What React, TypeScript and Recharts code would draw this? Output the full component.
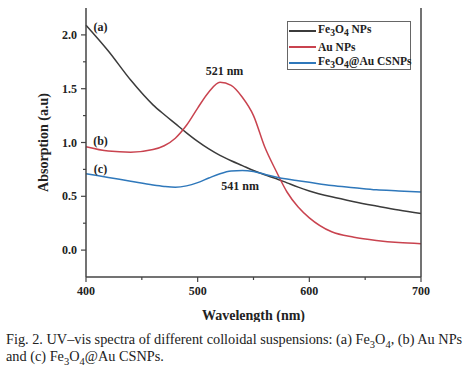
import React from "react"
import {
  LineChart,
  Line,
  XAxis,
  YAxis,
  ReferenceDot,
} from "recharts"

const wavelengths = [400, 420, 440, 460, 470, 480, 490, 500, 510, 520, 530, 540, 550, 560, 570, 580, 590, 600, 620, 640, 660, 680, 700]
const fe3o4 = [2.09, 1.85, 1.58, 1.35, 1.26, 1.175, 1.09, 1.01, 0.94, 0.88, 0.83, 0.785, 0.74, 0.7, 0.665, 0.625, 0.585, 0.55, 0.495, 0.45, 0.41, 0.372, 0.34]
const auNps = [0.96, 0.92, 0.91, 0.935, 0.97, 1.04, 1.16, 1.32, 1.47, 1.56, 1.53, 1.42, 1.25, 0.96, 0.74, 0.54, 0.4, 0.3, 0.17, 0.12, 0.09, 0.07, 0.06]
const csnps = [0.71, 0.675, 0.64, 0.605, 0.592, 0.585, 0.597, 0.627, 0.67, 0.71, 0.735, 0.74, 0.73, 0.705, 0.68, 0.66, 0.645, 0.63, 0.6, 0.58, 0.56, 0.55, 0.54]

const xTicks = [400, 450, 500, 550, 600, 650, 700]
const xTopTicks = [430, 460, 490, 520, 550, 580, 610, 640, 670, 700]
const yTicks = [0, 0.25, 0.5, 0.75, 1, 1.25, 1.5, 1.75, 2]

const annotations = [
  { x: 413, y: 2.08, text: "(a)" },
  { x: 413, y: 1.02, text: "(b)" },
  { x: 413, y: 0.755, text: "(c)" },
  { x: 524, y: 1.67, text: "521 nm" },
  { x: 538, y: 0.6, text: "541 nm" },
]

const BLACK = "#3b3b3b"
const RED = "#c9434f"
const BLUE = "#2f78bb"
const AXIS = "#444"
const FONT = "'Liberation Serif', 'Times New Roman', serif"

const data = wavelengths.map((w, i) => ({
  w,
  fe3o4: fe3o4[i],
  au: auNps[i],
  cs: csnps[i],
}))

const BottomTick = (props: any) => {
  const { x, y, payload } = props
  const major = payload.value % 100 === 0
  return (
    <g>
      <line x1={x} x2={x} y1={y} y2={y + (major ? 5 : 3)} stroke={AXIS} strokeWidth={1.2} />
      {major && (
        <text x={x} y={y + 18} textAnchor="middle" fontFamily={FONT} fontWeight="bold" fontSize={12} fill="#222">
          {payload.value}
        </text>
      )}
    </g>
  )
}

const TopTick = (props: any) => {
  const { x, y, payload } = props
  const major = (payload.value - 460) % 60 === 0
  return <line x1={x} x2={x} y1={y} y2={y + (major ? 4 : 2.5)} stroke={AXIS} strokeWidth={1.2} />
}

const LeftTick = (props: any) => {
  const { x, y, payload } = props
  const major = Math.abs(payload.value * 2 - Math.round(payload.value * 2)) < 1e-6
  return (
    <g>
      <line x1={x - (major ? 5 : 3)} x2={x} y1={y} y2={y} stroke={AXIS} strokeWidth={1.2} />
      {major && (
        <text x={x - 9} y={y + 4} textAnchor="end" fontFamily={FONT} fontWeight="bold" fontSize={12} fill="#222">
          {payload.value.toFixed(1)}
        </text>
      )}
    </g>
  )
}

const RightTick = (props: any) => {
  const { x, y, payload } = props
  const major = Math.abs(payload.value * 2 - Math.round(payload.value * 2)) < 1e-6
  return <line x1={x - (major ? 5 : 3)} x2={x} y1={y} y2={y} stroke={AXIS} strokeWidth={1.2} />
}

const legendItems = [
  { color: BLACK, label: <>Fe<sub>3</sub>O<sub>4</sub> NPs</> },
  { color: RED, label: <>Au NPs</> },
  { color: BLUE, label: <>Fe<sub>3</sub>O<sub>4</sub>@Au CSNPs</> },
]

const subStyle = { fontSize: 10.5, lineHeight: 0 }

export default function App() {
  return (
    <div style={{ position: "absolute", left: 0, top: 0, width: 474, height: 366, background: "#fff" }}>
      <LineChart width={474} height={322} data={data} margin={{ top: 8, right: 0, left: 0, bottom: 0 }}>
        <XAxis
          xAxisId="bottom"
          dataKey="w"
          type="number"
          domain={[400, 700]}
          ticks={xTicks}
          height={45}
          tickSize={0}
          tickMargin={0}
          tickLine={false}
          tick={<BottomTick />}
          stroke={AXIS}
          strokeWidth={1.5}
          label={{
            value: "Wavelength (nm)",
            position: "insideBottom",
            offset: 2,
            style: { fontFamily: FONT, fontWeight: "bold", fontSize: 14, fill: "#222" },
          }}
        />
        <XAxis
          xAxisId="top"
          orientation="top"
          dataKey="w"
          type="number"
          domain={[400, 700]}
          ticks={xTopTicks}
          height={0}
          tickSize={0}
          tickMargin={0}
          tickLine={false}
          tick={<TopTick />}
          stroke={AXIS}
          strokeWidth={1.5}
        />
        <YAxis
          yAxisId="left"
          type="number"
          domain={[-0.25, 2.25]}
          ticks={yTicks}
          width={86}
          tickSize={0}
          tickMargin={0}
          tickLine={false}
          tick={<LeftTick />}
          stroke={AXIS}
          strokeWidth={1.5}
          label={{
            value: "Absorption (a.u)",
            angle: -90,
            position: "center",
            style: { fontFamily: FONT, fontWeight: "bold", fontSize: 14, fill: "#222" },
          }}
        />
        <YAxis
          yAxisId="right"
          orientation="right"
          type="number"
          domain={[-0.25, 2.25]}
          ticks={yTicks}
          width={53}
          tickSize={0}
          tickMargin={0}
          tickLine={false}
          tick={<RightTick />}
          stroke={AXIS}
          strokeWidth={1.5}
        />
        <Line xAxisId="bottom" yAxisId="left" type="monotone" dataKey="fe3o4" stroke={BLACK} strokeWidth={1.5} dot={false} isAnimationActive={false} />
        <Line xAxisId="bottom" yAxisId="left" type="monotone" dataKey="au" stroke={RED} strokeWidth={1.5} dot={false} isAnimationActive={false} />
        <Line xAxisId="bottom" yAxisId="left" type="monotone" dataKey="cs" stroke={BLUE} strokeWidth={1.5} dot={false} isAnimationActive={false} />
        {annotations.map((a) => (
          <ReferenceDot
            key={a.text}
            xAxisId="bottom"
            yAxisId="left"
            x={a.x}
            y={a.y}
            r={0}
            fill="none"
            stroke="none"
            label={{
              value: a.text,
              position: "center",
              style: { fontFamily: FONT, fontWeight: "bold", fontSize: 12, fill: "#222" },
            }}
          />
        ))}
      </LineChart>

      <div
        style={{
          position: "absolute",
          left: 287,
          top: 21,
          width: 124,
          height: 49,
          border: "1px solid #666",
          boxSizing: "border-box",
          fontFamily: FONT,
          fontWeight: "bold",
          fontSize: 11.5,
          color: "#222",
        }}
      >
        {legendItems.map((it, i) => (
          <div key={i} style={{ position: "absolute", left: 1, top: 2 + i * 16, height: 14, display: "flex", alignItems: "center", whiteSpace: "nowrap" }}>
            <span style={{ display: "inline-block", width: 27, height: 1.5, background: it.color, marginRight: 2 }} />
            <span style={{ lineHeight: "14px" }}>{it.label}</span>
          </div>
        ))}
      </div>

      <div
        style={{
          position: "absolute",
          left: 6,
          top: 331,
          fontFamily: FONT,
          fontSize: 14.3,
          lineHeight: "16.7px",
          color: "#222",
          whiteSpace: "nowrap",
        }}
      >
        Fig. 2. UV–vis spectra of different colloidal suspensions: (a) Fe<sub style={subStyle}>3</sub>O<sub style={subStyle}>4</sub>, (b) Au NPs
        <br />
        and (c) Fe<sub style={subStyle}>3</sub>O<sub style={subStyle}>4</sub>@Au CSNPs.
      </div>
    </div>
  )
}
